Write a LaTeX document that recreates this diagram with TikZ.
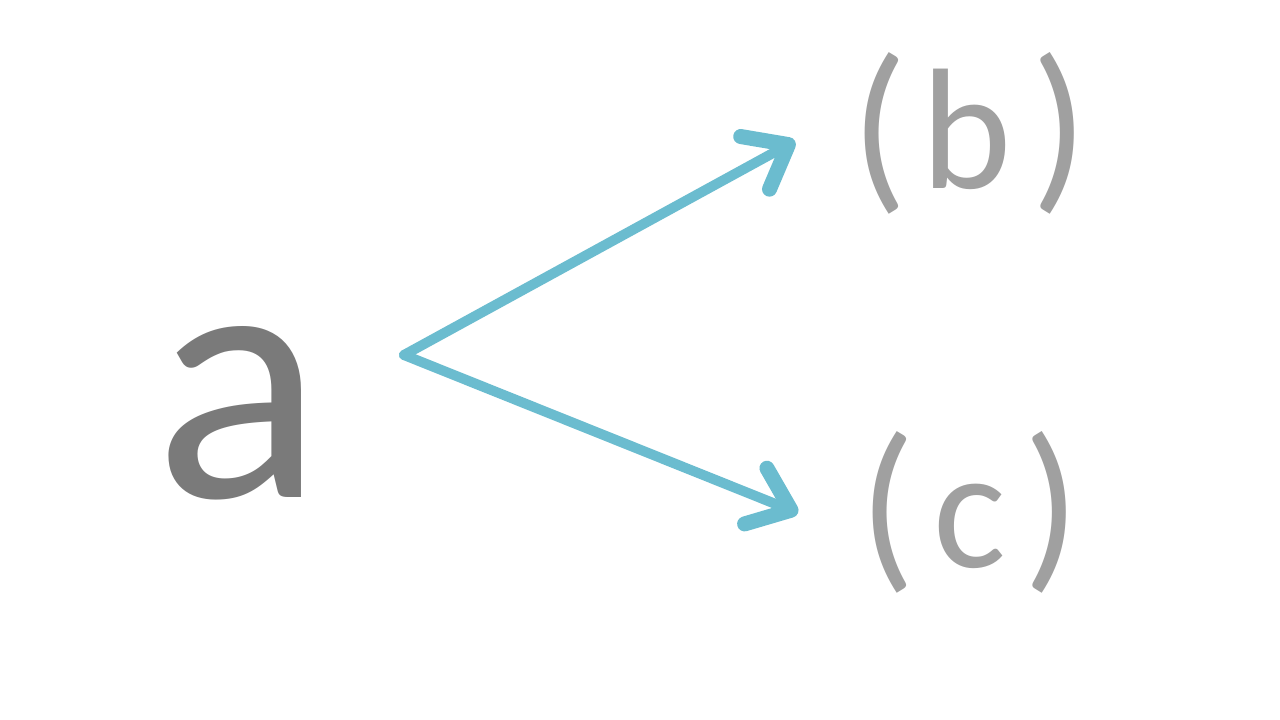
\documentclass[tikz,border=0pt]{standalone}
\usepackage{fontspec}
\setmainfont{Carlito}
\usetikzlibrary{arrows.meta}
\definecolor{agray}{HTML}{7A7A7A}
\definecolor{lgray}{HTML}{A0A0A0}
\definecolor{arrowblue}{HTML}{6BBCCF}
\newcommand{\bigparen}[1]{{\fontsize{186}{186}\selectfont #1}}
\tikzset{
  bigletter/.style={inner sep=0pt, outer sep=0pt, anchor=base west, text=agray, font=\fontsize{352}{352}\selectfont},
  label/.style={inner sep=0pt, outer sep=0pt, anchor=base west, text=lgray, font=\fontsize{172}{172}\selectfont},
  link/.style={draw=arrowblue, line width=10pt, line cap=round, line join=round,
    -{Straight Barb[length=38pt, width=60pt, line width=15pt, round]}}
}
\begin{document}
\begin{tikzpicture}[x=1pt, y=-1pt]
  \fill[white] (0,0) rectangle (1280,720);
  \useasboundingbox (0,0) rectangle (1280,720);
  \node[bigletter] (a) at (154,497) {a};
  \node[label] (b) at (851,188) {\bigparen{(}\kern14pt b\kern20pt\bigparen{)}};
  \node[label] (c) at (859,567) {\bigparen{(}\kern18pt c\kern17pt\bigparen{)}};
  \coordinate (apex) at (404,355);
  \coordinate (btip) at (795,141);
  \coordinate (ctip) at (798,513);
  \draw[link] (apex) -- (btip);
  \draw[link] (apex) -- (ctip);
\end{tikzpicture}
\end{document}
